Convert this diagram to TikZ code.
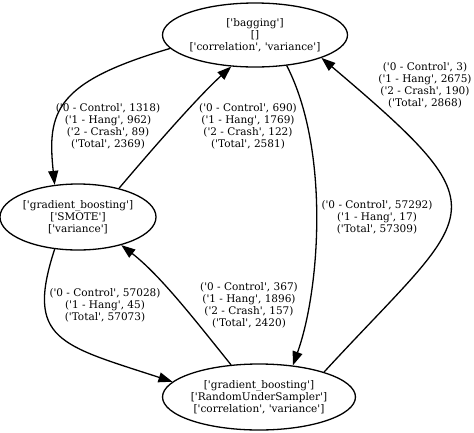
\documentclass[tikz,border=0pt]{standalone}
\usepackage{fontspec}
\newfontfamily\lblfont{DejaVu Serif}
\usetikzlibrary{shapes.geometric,arrows.meta}

\begin{document}
\begin{tikzpicture}[x=1pt,y=-1pt,
  state/.style={ellipse,draw,line width=1.3pt,inner sep=0pt,align=center,font=\lblfont\fontsize{10.5}{12}\selectfont},
  count/.style={align=center,inner sep=0pt,font=\lblfont\fontsize{10.5}{12}\selectfont},
  edge/.style={line width=1.3pt,-{Triangle[length=14pt,width=10pt]}}]
\useasboundingbox (0,0) rectangle (474,432);
\node[state,minimum width=156pt,minimum height=64pt] (bag) at (255,35) {['bagging']\\{[]}\\{['correlation', 'variance']}};
\node[state,minimum width=156pt,minimum height=66pt] (smote) at (78,217) {['gradient\_boosting']\\{['SMOTE']}\\{['variance']}};
\node[state,minimum width=170pt,minimum height=66pt] (rus) at (259,397) {['gradient\_boosting']\\{['RandomUnderSampler']}\\{['correlation', 'variance']}};
\node[count] (lA) at (108,126) {('0 - Control', 1318)\\('1 - Hang', 962)\\('2 - Crash', 89)\\('Total', 2369)};
\node[count] (lB) at (248,126) {('0 - Control', 690)\\('1 - Hang', 1769)\\('2 - Crash', 122)\\('Total', 2581)};
\node[count] (lC) at (425,85) {('0 - Control', 3)\\('1 - Hang', 2675)\\('2 - Crash', 190)\\('Total', 2868)};
\node[count] (lD) at (377,217) {('0 - Control', 57292)\\('1 - Hang', 17)\\('Total', 57309)};
\node[count] (lE) at (105,305) {('0 - Control', 57028)\\('1 - Hang', 45)\\('Total', 57073)};
\node[count] (lF) at (249,305) {('0 - Control', 367)\\('1 - Hang', 1896)\\('2 - Crash', 157)\\('Total', 2420)};
\draw[edge] (bag.189) .. controls (55,82) and (47,112) .. (smote.126);
\draw[edge] (smote.35) .. controls (160,140) and (200,95) .. (bag.233);
\draw[edge] (bag.316) .. controls (330,150) and (320,290) .. (rus.43);
\draw[edge] (rus.21) .. controls (476,207) and (508,216) .. (bag.341);
\draw[edge] (smote.234) .. controls (25,340) and (60,345) .. (rus.170);
\draw[edge] (rus.131) .. controls (195,320) and (160,275) .. (smote.327);
\end{tikzpicture}
\end{document}
